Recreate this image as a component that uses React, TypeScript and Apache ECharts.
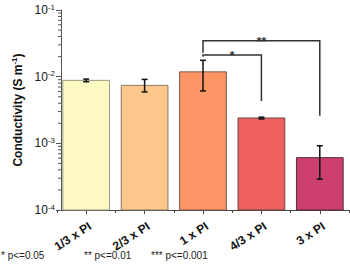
import React, { useEffect, useRef } from "react";
import * as echarts from "echarts";

const categories = ["1/3 x PI", "2/3 x PI", "1 x PI", "4/3 x PI", "3 x PI"];
const conductivity = [0.0088, 0.0074, 0.0118, 0.0024, 0.00061];
const errLow = [0.0084, 0.0059, 0.0061, 0.00232, 0.00029];
const errHigh = [0.0092, 0.0091, 0.0176, 0.00247, 0.00092];
const barColors = ["#FCFAC2", "#FEC78B", "#FD9566", "#EF6060", "#CC3F6F"];
const barBorders = ["#9a9a88", "#8a7a66", "#7a5a4a", "#6a4444", "#5a2a3a"];

// significance brackets: [fromIndex, toIndex, topValue, leftLegEnd, rightLegEnd]
const brackets = [
  [2, 3, 0.0211, 0.0199, 0.0043],
  [2, 4, 0.0345, 0.0228, 0.0026],
];
const bracketLabels = ["*", "**"];

const minorMultipliers = [2, 3, 4, 5, 6, 7, 8, 9];
const decades = [1e-4, 1e-3, 1e-2];
const axisMin = 1e-4;
const axisMax = 1e-1;

const footnotes = ["* p<=0.05", "** p<=0.01", "*** p<=0.001"];

const FONT = "'Liberation Sans', Arial, sans-serif";

export default function App() {
  const ref = useRef<HTMLDivElement>(null);

  useEffect(() => {
    if (!ref.current) return;
    const chart = echarts.init(ref.current, null, { renderer: "svg" });

    const minorTickValues: number[][] = [];
    decades.forEach((d) => minorMultipliers.forEach((m) => minorTickValues.push([0, d * m])));

    const option: any = {
      animation: false,
      textStyle: { fontFamily: FONT },
      grid: { left: 57, right: 1, top: 10, bottom: 60 },
      xAxis: [
        {
          type: "category",
          data: categories,
          axisLine: { lineStyle: { color: "#444", width: 1 } },
          axisTick: { show: true, length: 3, lineStyle: { color: "#444" } },
          axisLabel: { show: false },
        },
        {
          type: "category",
          data: categories,
          position: "bottom",
          axisLine: { show: false },
          axisTick: { show: true, alignWithLabel: true, length: 4, lineStyle: { color: "#444" } },
          axisLabel: { show: false },
        },
      ],
      yAxis: {
        type: "log",
        min: axisMin,
        max: axisMax,
        logBase: 10,
        offset: -4,
        name: "{a|Conductivity (S m}{s|-1}{a|)}",
        nameLocation: "middle",
        nameRotate: 90,
        nameGap: 36,
        nameTextStyle: {
          rich: {
            a: { fontFamily: FONT, fontWeight: "bold", fontSize: 12, color: "#111", lineHeight: 14 },
            s: { fontFamily: FONT, fontWeight: "bold", fontSize: 8, color: "#111", verticalAlign: "top", lineHeight: 14 },
          },
        },
        axisLine: { show: true, lineStyle: { color: "#555", width: 1 } },
        axisTick: { show: true, length: 5, lineStyle: { color: "#555" } },
        splitLine: { show: false },
        axisLabel: {
          margin: 6,
          formatter: (v: number) => `{b|10}{s|${Math.round(Math.log10(v))}}`,
          rich: {
            b: { fontFamily: FONT, fontSize: 12, color: "#222", lineHeight: 14 },
            s: { fontFamily: FONT, fontSize: 8, color: "#222", verticalAlign: "top", lineHeight: 14 },
          },
        },
      },
      series: [
        {
          type: "custom",
          name: "Conductivity",
          xAxisIndex: 0,
          data: conductivity.map((v, i) => [i, v]),
          renderItem: (params: any, api: any) => {
            const i = api.value(0);
            const top = api.coord([i, api.value(1)]);
            const base = api.coord([i, axisMin]);
            const w = api.size([1, 0])[0] * 0.8;
            return {
              type: "rect",
              shape: { x: top[0] - w / 2, y: top[1], width: w, height: base[1] - top[1] },
              style: { fill: barColors[params.dataIndex], stroke: barBorders[params.dataIndex], lineWidth: 1 },
            };
          },
          z: 3,
        },
        {
          type: "custom",
          xAxisIndex: 0,
          clip: false,
          silent: true,
          data: categories.map((_, i) => [i, axisMin]),
          renderItem: (params: any, api: any) => {
            const p = api.coord([api.value(0), api.value(1)]);
            return {
              type: "text",
              x: p[0] + 4,
              y: p[1] + 15,
              rotation: (33 * Math.PI) / 180,
              style: {
                text: categories[params.dataIndex],
                x: 0,
                y: 0,
                align: "right",
                verticalAlign: "middle",
                font: `bold 12px ${FONT}`,
                fill: "#111",
              },
            };
          },
          z: 3,
        },
        {
          type: "custom",
          xAxisIndex: 0,
          clip: false,
          data: categories.map((_, i) => [i, errLow[i], errHigh[i]]),
          renderItem: (params: any, api: any) => {
            const x = api.value(0);
            const lo = api.coord([x, api.value(1)]);
            const hi = api.coord([x, api.value(2)]);
            const cap = 3;
            const st = { stroke: "#111", lineWidth: 1.5 };
            return {
              type: "group",
              children: [
                { type: "line", shape: { x1: hi[0], y1: hi[1], x2: lo[0], y2: lo[1] }, style: st },
                { type: "line", shape: { x1: hi[0] - cap, y1: hi[1], x2: hi[0] + cap, y2: hi[1] }, style: st },
                { type: "line", shape: { x1: lo[0] - cap, y1: lo[1], x2: lo[0] + cap, y2: lo[1] }, style: st },
              ],
            };
          },
          z: 5,
        },
        {
          type: "custom",
          xAxisIndex: 0,
          clip: false,
          data: brackets,
          renderItem: (params: any, api: any) => {
            const a = api.value(0);
            const b = api.value(1);
            const top = api.value(2);
            const pTL = api.coord([a, top]);
            const pTR = api.coord([b, top]);
            const pL = api.coord([a, api.value(3)]);
            const pR = api.coord([b, api.value(4)]);
            const st = { stroke: "#333", lineWidth: 1.5 };
            return {
              type: "group",
              children: [
                { type: "polyline", shape: { points: [[pL[0], pL[1]], [pTL[0], pTL[1]], [pTR[0], pTR[1]], [pR[0], pR[1]]] }, style: { ...st, fill: "none" } },
                {
                  type: "text",
                  style: {
                    text: bracketLabels[params.dataIndex],
                    x: (pTL[0] + pTR[0]) / 2,
                    y: pTL[1] + 1,
                    align: "center",
                    verticalAlign: "middle",
                    font: `bold 12px ${FONT}`,
                    fill: "#333",
                  },
                },
              ],
            };
          },
          z: 6,
        },
        {
          type: "custom",
          xAxisIndex: 0,
          clip: false,
          data: minorTickValues,
          renderItem: (params: any, api: any) => {
            const p = api.coord([0, api.value(1)]);
            const x0 = params.coordSys.x + 4;
            return {
              type: "line",
              shape: { x1: x0 - 3, y1: p[1], x2: x0, y2: p[1] },
              style: { stroke: "#555", lineWidth: 1 },
            };
          },
          z: 4,
        },
      ],
      graphic: [
        { type: "text", left: 1, top: 250, style: { text: footnotes[0], font: `10px ${FONT}`, fill: "#222" } },
        { type: "text", left: 84, top: 250, style: { text: footnotes[1], font: `10px ${FONT}`, fill: "#222" } },
        { type: "text", left: 151, top: 250, style: { text: footnotes[2], font: `10px ${FONT}`, fill: "#222" } },
      ],
    };

    chart.setOption(option);
    return () => chart.dispose();
  }, []);

  return <div ref={ref} style={{ width: 350, height: 270, position: "absolute", left: 0, top: 0 }} />;
}
